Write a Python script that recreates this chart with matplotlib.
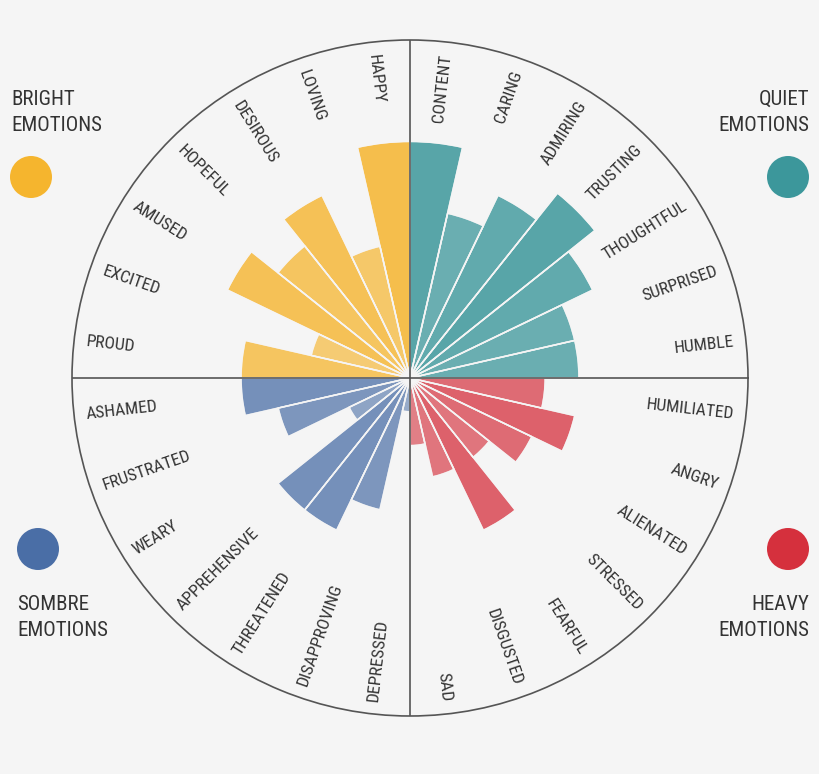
import numpy as np
import matplotlib
matplotlib.use("Agg")
import matplotlib.pyplot as plt
from matplotlib import font_manager
from matplotlib.patches import Circle

# ---------------- data ----------------
quiet_labels = ["CONTENT", "CARING", "ADMIRING", "TRUSTING", "THOUGHTFUL", "SURPRISED", "HUMBLE"]
quiet_values = [7, 5, 6, 7, 6, 5, 5]
bright_labels = ["HAPPY", "LOVING", "DESIROUS", "HOPEFUL", "AMUSED", "EXCITED", "PROUD"]
bright_values = [7, 4, 6, 5, 6, 3, 5]
sombre_labels = ["ASHAMED", "FRUSTRATED", "WEARY", "APPREHENSIVE", "THREATENED", "DISAPPROVING", "DEPRESSED"]
sombre_values = [5, 4, 2, 5, 5, 4, 1]
heavy_labels = ["SAD", "DISGUSTED", "FEARFUL", "STRESSED", "ALIENATED", "ANGRY", "HUMILIATED"]
heavy_values = [2, 3, 5, 3, 4, 5, 4]
group_titles = ["BRIGHT\nEMOTIONS", "QUIET\nEMOTIONS", "SOMBRE\nEMOTIONS", "HEAVY\nEMOTIONS"]
max_value = 10

# colours
c_bright = "#F5B52E"
c_quiet = "#3C979B"
c_sombre = "#4A6EA6"
c_heavy = "#D5303D"
bg = "#F5F5F5"
ink = "#333333"
line_c = "#555555"

# font choice
available = {f.name for f in font_manager.fontManager.ttflist}
cands = ["Liberation Sans Narrow", "Roboto Condensed", "Open Sans Condensed", "Liberation Sans", "DejaVu Sans"]
font = next(c for c in cands if c in available)

# assemble counter-clockwise order from angle 0 (east)
labels = list(reversed(quiet_labels)) + bright_labels + sombre_labels + heavy_labels
values = list(reversed(quiet_values)) + bright_values + sombre_values + heavy_values
colors = [c_quiet] * 7 + [c_bright] * 7 + [c_sombre] * 7 + [c_heavy] * 7
n = len(labels)
step = 2 * np.pi / n
theta = (np.arange(n) + 0.5) * step

W, H = 820, 774
fig = plt.figure(figsize=(W / 100, H / 100), dpi=100, facecolor=bg)

cx, cy, R = 410, 378, 338
ax = fig.add_axes([(cx - R) / W, (H - cy - R) / H, 2 * R / W, 2 * R / H], projection="polar")
ax.set_facecolor("none")
ax.set_ylim(0, max_value)
ax.set_xticks([])
ax.set_yticks([])
ax.grid(False)
ax.spines["polar"].set_color(line_c)
ax.spines["polar"].set_linewidth(1.2)

for t, v, c in zip(theta, values, colors):
    ax.bar(t, v, width=step, bottom=0, color=c, alpha=0.5 + 0.05 * v,
           edgecolor=bg, linewidth=1.2, zorder=2)
    ax.bar(t, v, width=step, bottom=0, facecolor="none", edgecolor=bg, linewidth=1.0, zorder=3)

for a in [0, np.pi / 2, np.pi, 3 * np.pi / 2]:
    ax.plot([a, a], [0, max_value], color=line_c, lw=1.2, zorder=4)

r_lab = 9.63
for t, lab in zip(theta, labels):
    deg = np.degrees(t)
    if deg < 90 or deg > 270:
        rot = deg if deg < 90 else deg - 360
        ha = "right"
    else:
        rot = deg - 180
        ha = "left"
    ax.text(t, r_lab, lab, rotation=rot, rotation_mode="anchor", ha=ha, va="center",
            fontsize=12.5, color=ink, family=[font, "DejaVu Sans"])

# overlay in pixel coordinates for group legends
ov = fig.add_axes([0, 0, 1, 1])
ov.set_xlim(0, W)
ov.set_ylim(H, 0)
ov.axis("off")
ov.set_facecolor("none")

legend_spec = [
    (group_titles[0], c_bright, 11, 90, "left", 31, 177),
    (group_titles[1], c_quiet, 809, 90, "right", 788, 177),
    (group_titles[2], c_sombre, 17, 595, "left", 38, 549),
    (group_titles[3], c_heavy, 809, 595, "right", 788, 549),
]
for txt, col, x, y, ha, ccx, ccy in legend_spec:
    ov.text(x, y, txt, ha=ha, va="top", multialignment=ha, fontsize=15, color=ink,
            linespacing=1.45, family=[font, "DejaVu Sans"])
    ov.add_patch(Circle((ccx, ccy), 21, color=col, lw=0))

fig.savefig("out.png", dpi=100, facecolor=bg)
